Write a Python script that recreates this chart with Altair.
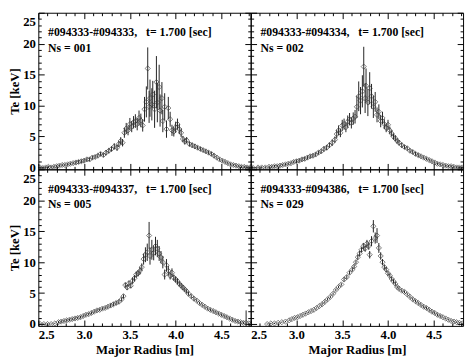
import altair as alt
import pandas as pd

# ---------------- data ----------------
SHOTS = ["#094333-#094333,", "#094333-#094334,", "#094333-#094337,", "#094333-#094386,"]
NS = ["Ns = 001", "Ns = 002", "Ns = 005", "Ns = 029"]
TIME_LABEL = "t=  1.700 [sec]"

R1 = [2.52, 2.55, 2.58, 2.61, 2.64, 2.67, 2.70, 2.73, 2.76, 2.79,
      2.82, 2.85, 2.88, 2.91, 2.94, 2.97, 3.00, 3.03, 3.06, 3.09,
      3.12, 3.15, 3.18, 3.21, 3.24, 3.27, 3.30, 3.33, 3.36, 3.38,
      3.40, 3.42, 3.44, 3.46, 3.48, 3.50, 3.52, 3.54, 3.56, 3.58,
      3.60, 3.62, 3.64, 3.66, 3.68, 3.695, 3.71, 3.72, 3.74, 3.75,
      3.77, 3.79, 3.80, 3.82, 3.83, 3.85, 3.86, 3.88, 3.90, 3.92,
      3.94, 3.96, 3.98, 4.00, 4.02, 4.04, 4.06, 4.08, 4.10, 4.12,
      4.15, 4.18, 4.21, 4.24, 4.27, 4.30, 4.33, 4.36, 4.39, 4.42,
      4.45, 4.48, 4.51, 4.54, 4.57, 4.60, 4.63, 4.66, 4.69, 4.72,
      4.75, 4.78, 4.81]
TE1 = [0.0, -0.1, 0.0, 0.1, 0.0, 0.1, 0.2, 0.3, 0.4, 0.4,
       0.5, 0.6, 0.7, 0.8, 0.9, 1.0, 1.1, 1.3, 1.3, 1.6,
       1.7, 1.9, 2.2, 2.0, 2.4, 2.7, 3.0, 3.4, 3.2, 3.8,
       4.3, 4.0, 5.6, 6.3, 6.0, 7.0, 6.6, 7.3, 7.5, 7.0,
       8.0, 7.6, 6.8, 9.4, 10.6, 16.0, 9.8, 11.2, 10.2, 11.8,
       9.4, 13.8, 10.5, 13.0, 9.2, 11.2, 7.5, 9.8, 6.2, 9.6,
       7.8, 6.0, 5.8, 6.5, 7.0, 6.2, 5.6, 4.6, 4.2, 4.4,
       3.8, 3.6, 3.4, 3.2, 3.0, 2.8, 2.6, 2.4, 2.2, 1.9,
       1.6, 1.3, 1.1, 0.9, 0.7, 0.5, 0.4, 0.3, 0.2, 0.1,
       0.1, 0.0, 0.0]
ERR1 = [0.2, 0.2, 0.2, 0.2, 0.2, 0.2, 0.2, 0.2, 0.2, 0.2,
        0.2, 0.2, 0.2, 0.3, 0.3, 0.3, 0.3, 0.3, 0.3, 0.3,
        0.3, 0.3, 0.3, 0.3, 0.4, 0.4, 0.4, 0.5, 0.5, 0.5,
        0.6, 0.6, 0.8, 0.9, 0.8, 1.0, 0.9, 1.0, 1.1, 1.0,
        1.2, 1.1, 1.0, 2.0, 2.5, 3.4, 2.6, 3.0, 2.6, 2.2,
        3.0, 4.2, 3.2, 3.6, 2.6, 2.6, 1.8, 2.2, 1.4, 1.8,
        1.2, 0.9, 0.8, 0.9, 0.9, 0.8, 0.7, 0.5, 0.5, 0.5,
        0.4, 0.4, 0.4, 0.3, 0.3, 0.3, 0.3, 0.3, 0.3, 0.3,
        0.2, 0.2, 0.2, 0.2, 0.2, 0.2, 0.2, 0.2, 0.2, 0.2,
        0.2, 0.2, 0.2]

R2 = [2.52, 2.58, 2.62, 2.66, 2.70, 2.73, 2.76, 2.79, 2.82, 2.85,
      2.88, 2.91, 2.94, 2.97, 3.00, 3.03, 3.06, 3.09, 3.12, 3.15,
      3.18, 3.21, 3.24, 3.27, 3.30, 3.33, 3.36, 3.39, 3.42, 3.44,
      3.46, 3.48, 3.50, 3.52, 3.54, 3.56, 3.58, 3.60, 3.62, 3.64,
      3.66, 3.68, 3.70, 3.72, 3.735, 3.75, 3.76, 3.78, 3.80, 3.82,
      3.84, 3.86, 3.88, 3.90, 3.92, 3.94, 3.96, 3.98, 4.00, 4.02,
      4.04, 4.06, 4.08, 4.10, 4.12, 4.15, 4.18, 4.21, 4.24, 4.27,
      4.30, 4.33, 4.36, 4.39, 4.42, 4.45, 4.48, 4.51, 4.54, 4.57,
      4.60, 4.63, 4.66, 4.69, 4.72, 4.75, 4.78, 4.81]
TE2 = [0.0, 0.0, 0.0, 0.0, 0.1, 0.1, 0.2, 0.2, 0.3, 0.4,
       0.5, 0.6, 0.7, 0.9, 1.0, 1.1, 1.3, 1.4, 1.6, 1.8,
       1.9, 2.1, 2.4, 2.6, 3.0, 3.2, 3.6, 4.0, 4.5, 5.4,
       6.0, 5.6, 6.8, 7.0, 6.5, 7.4, 7.8, 7.2, 7.9, 8.2,
       9.8, 11.5, 10.8, 12.3, 16.3, 11.2, 13.2, 10.5, 12.8, 11.5,
       9.8, 10.6, 8.5, 9.0, 7.5, 8.0, 7.0, 6.4, 6.9, 6.0,
       5.5, 5.0, 4.7, 4.3, 4.0, 3.6, 3.3, 3.1, 2.7, 2.5,
       2.2, 2.0, 1.8, 1.6, 1.4, 1.2, 1.0, 0.8, 0.6, 0.5,
       0.4, 0.3, 0.2, 0.2, 0.1, 0.0, 0.0, 0.0]
ERR2 = [0.2, 0.2, 0.2, 0.2, 0.2, 0.2, 0.2, 0.2, 0.2, 0.2,
        0.2, 0.2, 0.2, 0.2, 0.3, 0.3, 0.3, 0.3, 0.3, 0.3,
        0.3, 0.3, 0.3, 0.3, 0.4, 0.4, 0.4, 0.5, 0.5, 0.7,
        0.8, 0.7, 0.9, 0.9, 0.8, 1.0, 1.0, 0.9, 1.0, 1.1,
        1.8, 2.4, 2.2, 2.6, 3.2, 2.4, 2.8, 2.2, 2.6, 2.0,
        1.8, 1.6, 1.2, 1.2, 1.0, 1.0, 0.8, 0.7, 0.8, 0.6,
        0.5, 0.5, 0.5, 0.4, 0.4, 0.4, 0.3, 0.3, 0.3, 0.3,
        0.3, 0.3, 0.2, 0.2, 0.2, 0.2, 0.2, 0.2, 0.2, 0.2,
        0.2, 0.2, 0.2, 0.2, 0.2, 0.2, 0.2, 0.2]

R3 = [2.52, 2.56, 2.60, 2.64, 2.68, 2.72, 2.75, 2.78, 2.81, 2.84,
      2.87, 2.90, 2.93, 2.96, 2.99, 3.02, 3.05, 3.08, 3.11, 3.14,
      3.17, 3.20, 3.23, 3.26, 3.29, 3.32, 3.35, 3.38, 3.41, 3.43,
      3.45, 3.47, 3.49, 3.51, 3.53, 3.55, 3.57, 3.59, 3.61, 3.63,
      3.65, 3.67, 3.69, 3.71, 3.72, 3.74, 3.76, 3.78, 3.80, 3.82,
      3.84, 3.86, 3.88, 3.90, 3.92, 3.94, 3.96, 3.98, 4.00, 4.02,
      4.04, 4.06, 4.08, 4.10, 4.12, 4.14, 4.17, 4.20, 4.23, 4.26,
      4.29, 4.32, 4.35, 4.38, 4.41, 4.44, 4.47, 4.50, 4.53, 4.56,
      4.59, 4.62, 4.65, 4.68, 4.71, 4.74, 4.77, 4.80]
TE3 = [0.0, 0.0, 0.0, 0.0, 0.1, 0.3, 0.4, 0.5, 0.6, 0.7,
       0.8, 0.9, 1.0, 1.1, 1.3, 1.5, 1.6, 1.8, 2.0, 2.2,
       2.3, 2.5, 2.6, 2.8, 3.0, 3.2, 3.4, 3.6, 4.0, 4.5,
       6.3, 5.9, 6.6, 6.2, 7.0, 7.4, 8.0, 8.2, 8.6, 9.2,
       10.5, 11.2, 11.6, 14.3, 11.0, 12.0, 11.5, 12.6, 12.2, 11.4,
       10.8, 10.0, 8.0, 9.5, 8.6, 7.8, 8.3, 7.5, 7.2, 6.9,
       6.5, 6.2, 5.9, 5.6, 5.3, 4.9, 4.5, 4.1, 3.8, 3.4,
       3.1, 2.8, 2.5, 2.3, 2.1, 1.9, 1.7, 1.5, 1.3, 1.1,
       0.9, 0.7, 0.5, 0.4, 0.3, 0.2, 0.2, 0.1]
ERR3 = [0.1, 0.1, 0.1, 0.1, 0.1, 0.2, 0.2, 0.2, 0.2, 0.2,
        0.2, 0.2, 0.2, 0.2, 0.2, 0.2, 0.2, 0.2, 0.2, 0.2,
        0.2, 0.2, 0.2, 0.2, 0.3, 0.3, 0.3, 0.3, 0.3, 0.3,
        0.4, 0.4, 0.4, 0.4, 0.5, 0.5, 0.5, 0.5, 0.6, 0.6,
        0.9, 1.2, 1.4, 2.2, 1.4, 1.6, 1.2, 1.5, 1.4, 1.2,
        1.0, 1.0, 0.8, 1.0, 0.8, 0.6, 0.7, 0.5, 0.5, 0.5,
        0.4, 0.4, 0.4, 0.3, 0.3, 0.3, 0.3, 0.3, 0.2, 0.2,
        0.2, 0.2, 0.2, 0.2, 0.2, 0.2, 0.2, 0.2, 0.2, 0.2,
        0.2, 0.2, 0.2, 0.2, 0.2, 0.2, 2.0, 0.1]

R4 = [2.68, 2.72, 2.76, 2.80, 2.84, 2.88, 2.92, 2.95, 2.98, 3.01,
      3.04, 3.07, 3.10, 3.13, 3.16, 3.19, 3.22, 3.25, 3.28, 3.31,
      3.34, 3.37, 3.40, 3.43, 3.46, 3.49, 3.52, 3.55, 3.58, 3.61,
      3.63, 3.65, 3.67, 3.69, 3.71, 3.73, 3.75, 3.77, 3.79, 3.80,
      3.82, 3.84, 3.86, 3.88, 3.90, 3.92, 3.94, 3.96, 3.98, 4.00,
      4.02, 4.04, 4.06, 4.08, 4.10, 4.12, 4.15, 4.18, 4.21, 4.24,
      4.27, 4.30, 4.33, 4.36, 4.39, 4.42, 4.45, 4.48, 4.51, 4.54,
      4.57, 4.60, 4.63, 4.66, 4.69, 4.72, 4.75, 4.78, 4.81]
TE4 = [0.0, 0.1, 0.1, 0.2, 0.3, 0.4, 0.6, 0.8, 1.0, 1.1,
       1.3, 1.5, 1.7, 1.9, 2.1, 2.3, 2.6, 2.9, 3.2, 3.6,
       4.0, 4.4, 4.9, 5.5, 6.0, 6.4, 7.2, 7.6, 8.3, 8.8,
       9.3, 10.0, 10.8, 11.4, 12.0, 12.6, 12.2, 13.0, 12.6, 11.2,
       13.4, 15.8, 13.9, 14.3, 12.3, 11.0, 10.0, 9.2, 8.8, 8.2,
       7.8, 7.3, 6.9, 6.5, 6.0, 5.7, 5.4, 5.2, 4.8, 4.4,
       4.0, 3.7, 3.4, 3.1, 2.8, 2.6, 2.3, 2.0, 1.8, 1.5,
       1.3, 1.1, 0.9, 0.7, 0.5, 0.4, 0.3, 0.2, 0.1]
ERR4 = [0.1, 0.1, 0.1, 0.1, 0.1, 0.1, 0.1, 0.1, 0.1, 0.1,
        0.1, 0.1, 0.1, 0.1, 0.1, 0.1, 0.1, 0.1, 0.2, 0.2,
        0.2, 0.2, 0.2, 0.2, 0.2, 0.2, 0.3, 0.3, 0.3, 0.3,
        0.3, 0.3, 0.4, 0.4, 0.4, 0.5, 0.5, 0.6, 0.6, 0.6,
        0.8, 1.0, 0.9, 1.2, 0.8, 0.6, 0.5, 0.4, 0.4, 0.3,
        0.3, 0.3, 0.3, 0.3, 0.2, 0.2, 0.2, 0.2, 0.2, 0.2,
        0.2, 0.2, 0.2, 0.2, 0.2, 0.2, 0.2, 0.2, 0.2, 0.2,
        0.2, 0.1, 0.1, 0.1, 0.1, 0.1, 0.1, 0.1, 0.1]

X_MAJOR = [2.5, 3.0, 3.5, 4.0, 4.5]
X_MINOR = [2.6, 2.7, 2.8, 2.9, 3.1, 3.2, 3.3, 3.4, 3.6, 3.7, 3.8, 3.9,
           4.1, 4.2, 4.3, 4.4, 4.6, 4.7, 4.8]
Y_MAJOR = [0, 5, 10, 15, 20, 25]
Y_MINOR = [1, 2, 3, 4, 6, 7, 8, 9, 11, 12, 13, 14, 16, 17, 18, 19, 21, 22, 23, 24]

XDOM = [2.5, 4.82]
YDOM = [-0.3, 25]
W, H = 217, 160
FONT = "Liberation Serif"
INK = "#222222"


def tick_axis(orient, offset, values, size):
    return alt.Axis(orient=orient, offset=offset, values=values, tickSize=size,
                    labels=False, domain=False, grid=False, title=None,
                    tickColor="black", tickWidth=1)


def panel(R, TE, ERR, shot, ns, show_x, show_y):
    df = pd.DataFrame({
        "R": R, "Te": TE,
        "lo": [t - e for t, e in zip(TE, ERR)],
        "hi": [t + e for t, e in zip(TE, ERR)],
    })
    xs = alt.Scale(domain=XDOM, nice=False, zero=False)
    ys = alt.Scale(domain=YDOM, nice=False, zero=False)
    base = alt.Chart(df)

    lab = dict(labelFont=FONT, labelFontSize=13, labelFontWeight="bold", labelColor="black",
               titleFont=FONT, titleFontSize=13, titleFontWeight="bold", titleColor="black")
    if show_x:
        xlab = alt.Axis(orient="bottom", values=X_MAJOR, format=".1f", ticks=False,
                        domain=False, grid=False, labelPadding=3,
                        title="Major Radius [m]", titlePadding=2, **lab)
    else:
        xlab = None
    if show_y:
        ylab = alt.Axis(orient="left", values=Y_MAJOR, format="d", ticks=False,
                        domain=False, grid=False, labelPadding=3, labelFlush=True,
                        labelFlushOffset=-3.5,
                        title="Te [keV]", titlePadding=1, **lab)
    else:
        ylab = None

    bars = base.mark_rule(color=INK, strokeWidth=1, clip=True).encode(
        x=alt.X("R:Q", scale=xs, axis=xlab),
        y=alt.Y("lo:Q", scale=ys, axis=ylab),
        y2="hi:Q",
    )
    pts = base.mark_point(shape="diamond", filled=False, size=28, color="#333333",
                          strokeWidth=0.9, clip=True).encode(
        x=alt.X("R:Q", scale=xs, axis=tick_axis("top", -H, X_MAJOR, 6)),
        y=alt.Y("Te:Q", scale=ys, axis=tick_axis("right", -W, Y_MAJOR, 6)),
    )
    g1 = base.mark_point(opacity=0).encode(
        x=alt.X("R:Q", scale=xs, axis=tick_axis("top", -H, X_MINOR, 3)),
        y=alt.Y("Te:Q", scale=ys, axis=tick_axis("right", -W, Y_MINOR, 3)),
    )
    g2 = base.mark_point(opacity=0).encode(
        x=alt.X("R:Q", scale=xs, axis=tick_axis("bottom", -H, X_MAJOR, 6)),
        y=alt.Y("Te:Q", scale=ys, axis=tick_axis("left", -W, Y_MAJOR, 6)),
    )
    g3 = base.mark_point(opacity=0).encode(
        x=alt.X("R:Q", scale=xs, axis=tick_axis("bottom", -H, X_MINOR, 3)),
        y=alt.Y("Te:Q", scale=ys, axis=tick_axis("left", -W, Y_MINOR, 3)),
    )

    txt = dict(align="left", baseline="middle", font=FONT, fontWeight="bold",
               fontSize=12, color="black")
    t_shot = alt.Chart(pd.DataFrame({"s": [shot]})).mark_text(**txt).encode(
        x=alt.value(10), y=alt.value(20), text="s:N")
    t_time = alt.Chart(pd.DataFrame({"s": [TIME_LABEL]})).mark_text(**txt).encode(
        x=alt.value(110), y=alt.value(20), text="s:N")
    t_ns = alt.Chart(pd.DataFrame({"s": [ns]})).mark_text(**txt).encode(
        x=alt.value(10), y=alt.value(36), text="s:N")

    return alt.layer(bars, pts, g1, g2, g3, t_shot, t_time, t_ns).resolve_axis(
        x="independent", y="independent"
    ).properties(width=W, height=H)


p1 = panel(R1, TE1, ERR1, SHOTS[0], NS[0], False, True)
p2 = panel(R2, TE2, ERR2, SHOTS[1], NS[1], False, False)
p3 = panel(R3, TE3, ERR3, SHOTS[2], NS[2], True, True)
p4 = panel(R4, TE4, ERR4, SHOTS[3], NS[3], True, False)

chart = alt.concat(p1, p2, p3, p4, columns=2, spacing=0, bounds="flush").configure(
    background="white", padding=0
).configure_view(
    stroke="black", strokeWidth=1
).configure_axis(
    labelFont=FONT, labelFontSize=13, labelFontWeight="bold", labelColor="black",
    titleFont=FONT, titleFontSize=13, titleFontWeight="bold", titleColor="black",
)

chart.save("out.html", embed_options={"renderer": "svg", "actions": False})
